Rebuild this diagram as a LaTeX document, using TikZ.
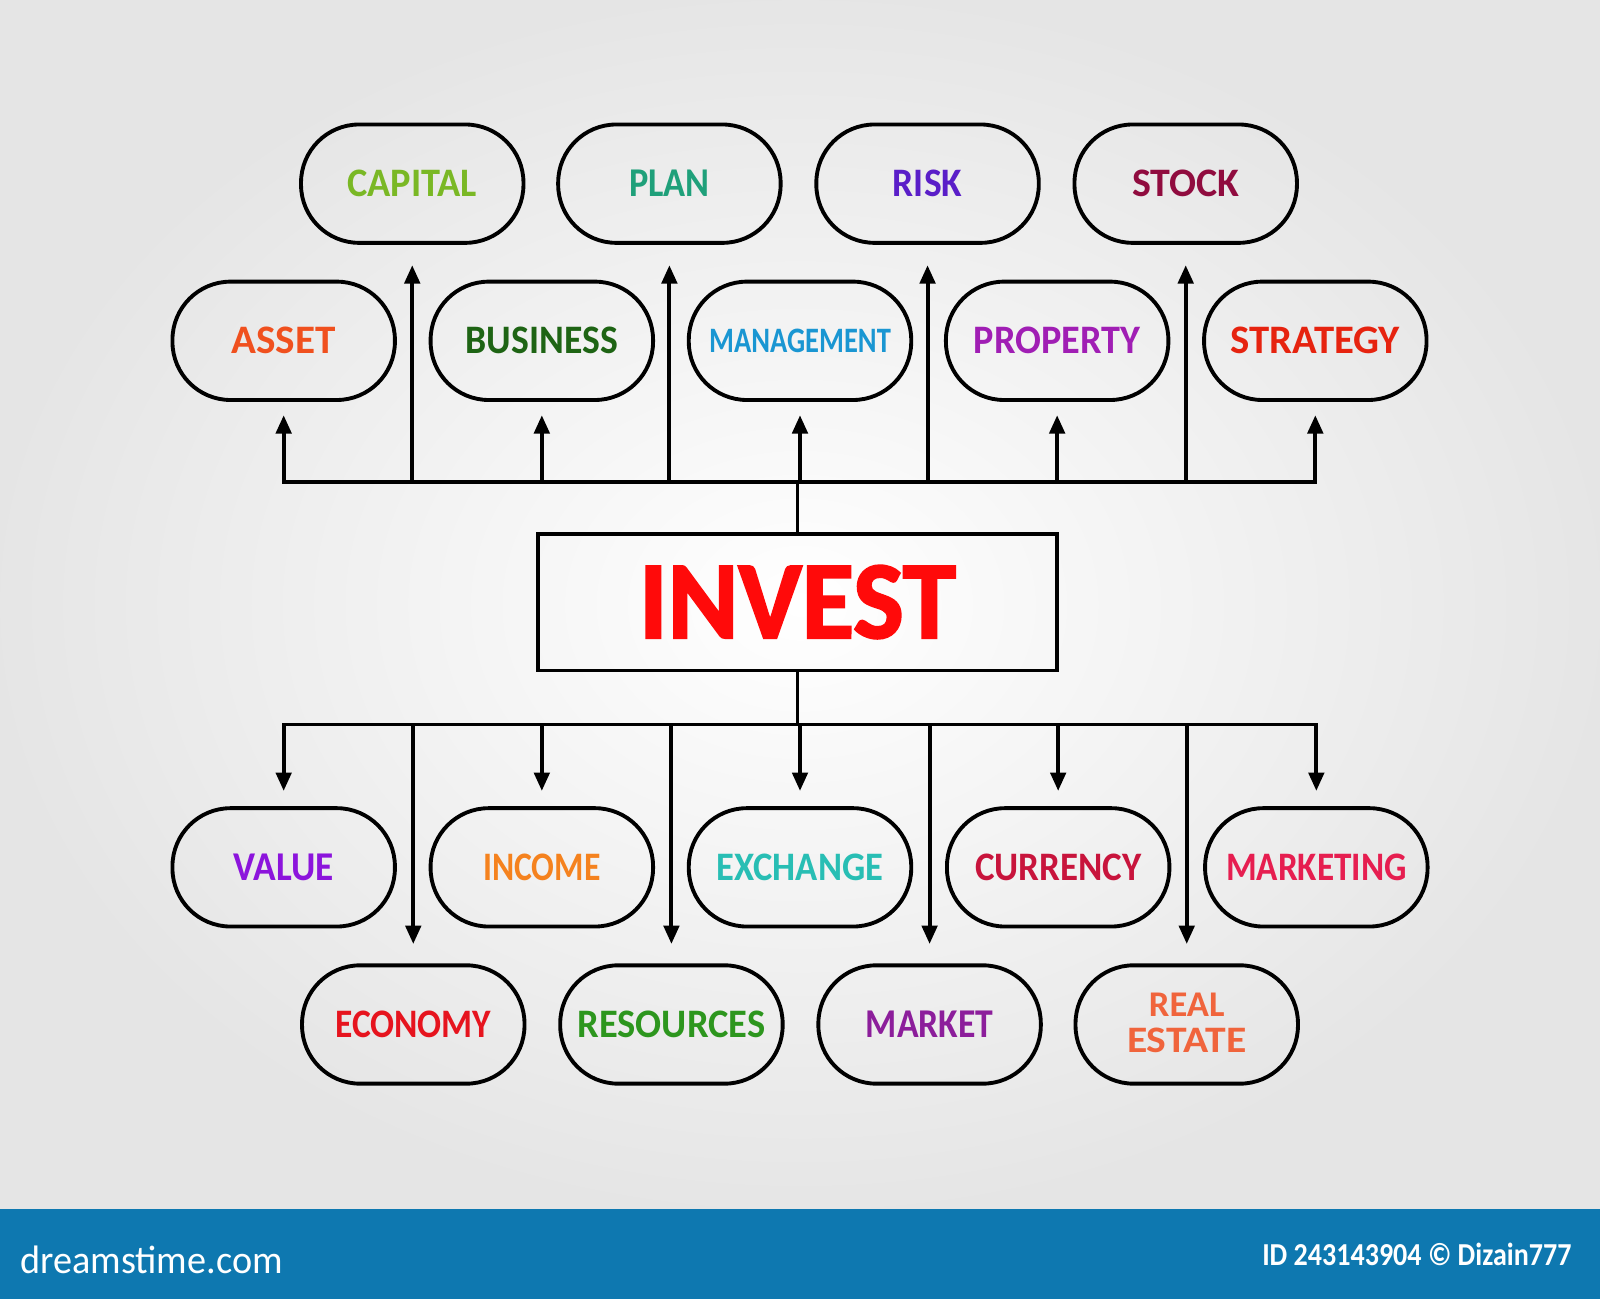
\documentclass[tikz,border=0pt]{standalone}
\usepackage{fontspec}
\setmainfont{Carlito}
\newfontfamily\heavy{Carlito}[BoldFeatures={FakeBold=2}]
\usepackage{graphicx}
\usetikzlibrary{arrows.meta}
\definecolor{cCapital}{HTML}{7AB825}
\definecolor{cPlan}{HTML}{1FA07A}
\definecolor{cRisk}{HTML}{5A1EC8}
\definecolor{cStock}{HTML}{900C3F}
\definecolor{cAsset}{HTML}{F0501E}
\definecolor{cBusiness}{HTML}{1E6414}
\definecolor{cManagement}{HTML}{1A96D2}
\definecolor{cProperty}{HTML}{A01EB4}
\definecolor{cStrategy}{HTML}{E6230F}
\definecolor{cValue}{HTML}{8C14DC}
\definecolor{cIncome}{HTML}{F5821E}
\definecolor{cExchange}{HTML}{28BEB4}
\definecolor{cCurrency}{HTML}{C8143C}
\definecolor{cMarketing}{HTML}{E61E50}
\definecolor{cEconomy}{HTML}{E6141E}
\definecolor{cResources}{HTML}{2D961E}
\definecolor{cMarket}{HTML}{8C1E9B}
\definecolor{cReal}{HTML}{F0643C}
\definecolor{cInvest}{HTML}{FF0A0A}
\definecolor{cBanner}{HTML}{0E78B0}
\newcommand\lbl[4]{\textcolor{#1}{\resizebox{#2pt}{#3pt}{\bfseries #4}}}
\begin{document}
\begin{tikzpicture}[x=1pt,y=-1pt,
  capsule/.style={draw=black, line width=3.8pt, rounded corners=57pt,
    minimum width=218pt, minimum height=116pt, inner sep=0pt},
  mainbox/.style={draw=black, line width=3.6pt, minimum width=509pt,
    minimum height=134pt, inner sep=0pt},
  conn/.style={line width=3.8pt, line cap=rect},
  arr/.style={line width=3.8pt, -{Triangle[width=15pt,length=18pt]}}]
\useasboundingbox (0,0) rectangle (1568,1273);
\shade[inner color=white, outer color=black!10] (0,0) rectangle (1568,1185);
\fill[cBanner] (0,1185) rectangle (1568,1273);
% top rows
\node[capsule] (capital) at (404,180) {\lbl{cCapital}{127}{26}{CAPITAL}};
\node[capsule] (plan) at (656,180) {\lbl{cPlan}{79}{26}{PLAN}};
\node[capsule] (risk) at (909,180) {\lbl{cRisk}{68}{26}{RISK}};
\node[capsule] (stock) at (1162,180) {\lbl{cStock}{105}{26}{STOCK}};
\node[capsule] (asset) at (278,334) {\lbl{cAsset}{102}{26}{ASSET}};
\node[capsule] (business) at (531,334) {\lbl{cBusiness}{149}{26}{BUSINESS}};
\node[capsule] (management) at (784,334) {\lbl{cManagement}{178}{23}{MANAGEMENT}};
\node[capsule] (property) at (1036,334) {\lbl{cProperty}{163}{26}{PROPERTY}};
\node[capsule] (strategy) at (1289,334) {\lbl{cStrategy}{166}{26}{STRATEGY}};
% center
\node[mainbox] (invest) at (781.5,590) {\textcolor{cInvest}{\resizebox{310pt}{71pt}{\heavy\bfseries INVEST}}};
% bottom rows
\node[capsule] (value) at (278,850) {\lbl{cValue}{98}{26}{VALUE}};
\node[capsule] (income) at (531,850) {\lbl{cIncome}{115}{26}{INCOME}};
\node[capsule] (exchange) at (784,850) {\lbl{cExchange}{163}{26}{EXCHANGE}};
\node[capsule] (currency) at (1037,850) {\lbl{cCurrency}{163}{26}{CURRENCY}};
\node[capsule] (marketing) at (1290,850) {\lbl{cMarketing}{177}{26}{MARKETING}};
\node[capsule] (economy) at (405,1004) {\lbl{cEconomy}{153}{26}{ECONOMY}};
\node[capsule] (resources) at (658,1004) {\lbl{cResources}{184}{26}{RESOURCES}};
\node[capsule] (market) at (911,1004) {\lbl{cMarket}{125}{26}{MARKET}};
\node[capsule] (realestate) at (1163,1004) {\begin{tabular}{@{}c@{}}\lbl{cReal}{74}{23}{REAL}\\[8pt]\lbl{cReal}{117}{24}{ESTATE}\end{tabular}};
% connectors top
\coordinate (tb) at (784,472);
\coordinate (bb) at (784,710);
\draw[conn] (invest.north) -- (invest.north |- tb);
\draw[conn] (asset.south |- tb) -- (strategy.south |- tb);
\foreach \n in {asset,business,management,property,strategy}
  \draw[arr, shorten >=13pt] (\n.south |- tb) -- (\n.south);
\foreach \n in {capital,plan,risk,stock}
  \draw[arr, shorten >=20pt] (\n.south |- tb) -- (\n.south);
% connectors bottom
\draw[conn] (invest.south) -- (invest.south |- bb);
\draw[conn] (value.north |- bb) -- (marketing.north |- bb);
\foreach \n in {value,income,exchange,currency,marketing}
  \draw[arr, shorten >=15pt] (\n.north |- bb) -- (\n.north);
\foreach \n in {economy,resources,market,realestate}
  \draw[arr, shorten >=19pt] (\n.north |- bb) -- (\n.north);
% banner text
\node[inner sep=0pt] (logo) at (148.5,1234.5) {\textcolor{white}{\resizebox{257pt}{27pt}{dreamstime.com}}};
\node[inner sep=0pt] (credit) at (1388.5,1229) {\textcolor{white}{\resizebox{303pt}{22pt}{\bfseries ID 243143904 © Dizain777}}};
\end{tikzpicture}
\end{document}
